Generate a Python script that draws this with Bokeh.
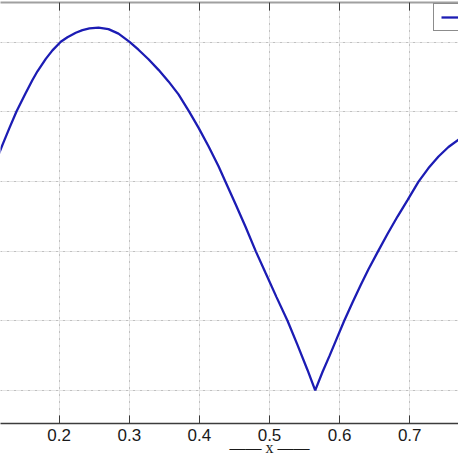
from bokeh.plotting import figure
from bokeh.models import Range1d, FixedTicker, LinearAxis, Grid, Legend, LegendItem
from bokeh.embed import file_html
from bokeh.resources import INLINE

# curve values
x_vals = [0.1049, 0.1120, 0.1191, 0.1291, 0.1391, 0.1519, 0.1619, 0.1690, 0.1809,
          0.1904, 0.2023, 0.2118, 0.2237, 0.2332, 0.2432, 0.2561, 0.2703, 0.2846,
          0.2999, 0.3131, 0.3274, 0.3417, 0.3559, 0.3702, 0.3852, 0.3987, 0.4130,
          0.4273, 0.4372, 0.4515, 0.4658, 0.4805, 0.4943, 0.5100, 0.5257, 0.5399,
          0.5542, 0.5652, 0.5756, 0.5856, 0.5956, 0.6066, 0.6184, 0.6298, 0.6412,
          0.6548, 0.6683, 0.6826, 0.6969, 0.7126, 0.7268, 0.7411, 0.7553, 0.7696,
          0.7810]
y_vals = [3.141, 3.343, 3.525, 3.769, 4.004, 4.264, 4.457, 4.582, 4.760,
          4.883, 5.007, 5.072, 5.136, 5.173, 5.198, 5.209, 5.188, 5.123,
          5.007, 4.892, 4.755, 4.603, 4.437, 4.250, 4.007, 3.773, 3.506,
          3.218, 2.997, 2.677, 2.349, 1.996, 1.688, 1.339, 1.000, 0.654,
          0.293, 0.000, 0.264, 0.495, 0.736, 1.000, 1.261, 1.505, 1.739,
          1.996, 2.245, 2.496, 2.733, 2.997, 3.192, 3.358, 3.495, 3.599,
          3.670]

x_ticks = [0.1, 0.2, 0.3, 0.4, 0.5, 0.6, 0.7]
y_ticks = [0, 1, 2, 3, 4, 5]
x_label = "—— x ——"
legend_label = "f(x)"

p = figure(width=458, height=458, output_backend="svg", toolbar_location=None,
           x_range=Range1d(0.1163, 0.7696), y_range=Range1d(-0.476, 5.570),
           x_axis_location=None, y_axis_location=None,
           min_border_left=0, min_border_right=0, min_border_top=2, min_border_bottom=0,
           background_fill_color="white", border_fill_color="white")
p.outline_line_color = None

axis_dark = "#3c3c3c"

# label centred under x = 0.5 (the axis centres its label on the frame)
xb = LinearAxis(ticker=FixedTicker(ticks=x_ticks), axis_label="\u2003" * 5 + x_label)
xb.axis_line_color = axis_dark
xb.axis_line_width = 1.5
xb.major_tick_line_color = axis_dark
xb.major_tick_in = 8
xb.major_tick_out = 0
xb.minor_tick_line_color = None
xb.major_label_text_font = "Liberation Sans"
xb.major_label_text_font_size = "17px"
xb.major_label_text_color = "#1a1a1a"
xb.major_label_standoff = 5
xb.axis_label_text_font = "Liberation Serif"
xb.axis_label_text_font_size = "16px"
xb.axis_label_text_font_style = "normal"
xb.axis_label_text_color = "#1a1a1a"
xb.axis_label_standoff = -5
p.add_layout(xb, "below")

xt = LinearAxis(ticker=FixedTicker(ticks=x_ticks))
xt.axis_line_color = "#a0a0a0"
xt.axis_line_width = 2
xt.major_tick_line_color = axis_dark
xt.major_tick_in = 8
xt.major_tick_out = 0
xt.minor_tick_line_color = None
xt.major_label_overrides = {t: "" for t in x_ticks}
xt.major_label_text_font_size = "1px"
xt.major_label_standoff = 0
p.add_layout(xt, "above")

for dim, ticks in ((0, x_ticks), (1, y_ticks)):
    g = Grid(dimension=dim, ticker=FixedTicker(ticks=ticks))
    g.grid_line_color = "#9a9a9a"
    g.grid_line_dash = "1 6"
    g.grid_line_width = 1
    p.add_layout(g)

r = p.line(x_vals, y_vals, line_color="#1c1cb4", line_width=2.3)

legend = Legend(items=[LegendItem(label=legend_label, renderers=[r])], location=(433, 392))
legend.padding = 7
legend.spacing = 0
legend.margin = 0
legend.glyph_height = 12
legend.glyph_width = 30
legend.label_height = 12
legend.label_text_font_size = "10px"
legend.border_line_color = "#1a1a1a"
legend.border_line_width = 1
legend.background_fill_color = "white"
legend.background_fill_alpha = 1
p.add_layout(legend)

open("out.html", "w").write(file_html(p, INLINE))
